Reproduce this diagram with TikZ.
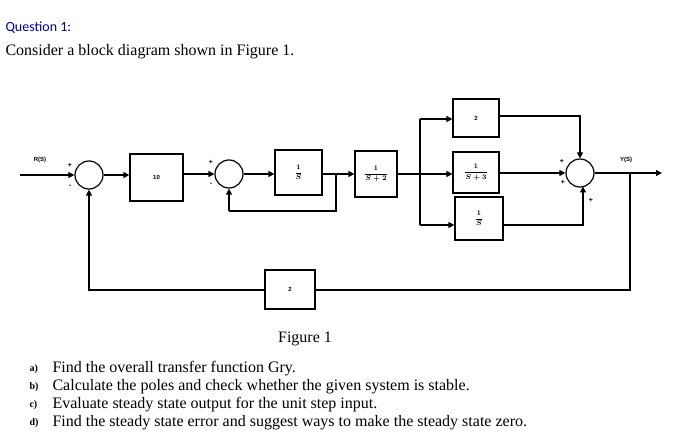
\documentclass[tikz,border=0pt]{standalone}
\usepackage{fontspec}
\setmainfont{Liberation Serif}
\newfontfamily\carl{Carlito}
\newfontfamily\lsans{Liberation Sans}
\usetikzlibrary{arrows.meta}
\begin{document}
\begin{tikzpicture}[x=1pt,y=-1pt,
  blk/.style={draw,line width=1.2pt,minimum width=#1,inner sep=0pt},
  sm/.style={draw,circle,line width=1.2pt,minimum size=28pt,inner sep=0pt},
  w/.style={line width=1.2pt},
  a/.style={line width=1.2pt,-{Triangle[length=6pt,width=6pt]}},
  lb/.style={font=\lsans\fontsize{6}{7}\selectfont\bfseries},
  sg/.style={font=\lsans\fontsize{7}{8}\selectfont\bfseries},
  fr/.style={font=\fontsize{7}{8}\selectfont\boldmath},
  tx/.style={font=\fontsize{16}{18}\selectfont}]
\useasboundingbox (0,0) rectangle (689,441);
\node[anchor=west,text=blue!60!black,font=\carl\fontsize{14}{16}\selectfont] (q) at (2,28) {Question 1:};
\node[anchor=west,tx] (c) at (2,52) {Consider a block diagram shown in Figure 1.};
% blocks
\node[sm] (s1) at (89,175) {};
\node[blk=53pt,minimum height=47pt,lb] (b10) at (156.5,177.5) {10};
\node[sm] (s2) at (229,174) {};
\node[blk=47pt,minimum height=45pt,fr] (bs) at (298.5,172.5) {$\displaystyle\frac{1}{S}$};
\node[blk=42pt,minimum height=46pt,fr] (bs2) at (376,174) {$\displaystyle\frac{1}{S+2}$};
\node[blk=46pt,minimum height=38pt,lb] (b2t) at (476,118) {2};
\node[blk=46pt,minimum height=41pt,fr] (bs3) at (476,172.5) {$\displaystyle\frac{1}{S+3}$};
\node[blk=48pt,minimum height=43pt,fr] (bsb) at (479,218.5) {$\displaystyle\frac{1}{S}$};
\node[sm] (s3) at (580,173) {};
\node[blk=50pt,minimum height=39pt,lb] (b2f) at (290,289.5) {2};
\coordinate (in) at (20,175);
\coordinate (out) at (662,173);
\coordinate (tap) at (630,173);
\coordinate (br) at (420,174);
\coordinate (fb) at (336,174);
% connections
\draw[a] (in) -- (s1.west);
\draw[a] (s1.east) -- (b10.west|-s1);
\draw[a] (b10.east|-s2) -- (s2.west);
\draw[a] (s2.east) -- (bs.west|-s2);
\draw[a] (bs.east|-fb) -- (bs2.west|-fb);
\draw[w] (fb) |- (229,211) coordinate (ib);
\draw[a] (ib) -- (s2.south);
\draw[w] (bs2.east|-br) -- (br);
\draw[w] (420,119) -- (420,225);
\draw[a] (420,119) -- (b2t.west|-0,119);
\draw[a] (br) -- (bs3.west|-br);
\draw[a] (420,225) -- (bsb.west|-0,225);
\draw[a] (b2t.east|-0,116) -| (s3.north);
\draw[a] (bs3.east|-s3) -- (s3.west);
\draw[a] (bsb.east|-0,225) -| (583,186.5);
\draw[a] (s3.east) -- (out);
\draw[w] (tap) |- (b2f.east|-0,290);
\draw[w] (b2f.west|-0,290) -| (89,200);
\draw[a] (89,200) -- (s1.south);
% labels
\node[lb] (r) at (40,160) {R(S)};
\node[lb] (y) at (626,160) {Y(S)};
\node[sg] at (70,165) {+};
\node[sg] at (70,186) {-};
\node[sg] at (211,162) {+};
\node[sg] at (211,184) {-};
\node[sg] at (562,161) {+};
\node[sg] at (563,182) {+};
\node[sg] at (591,200) {+};
\node[tx] (f) at (305,339) {Figure 1};
\foreach \l/\t/\yy in {a/{Find the overall transfer function Gry.}/369,b/{Calculate the poles and check whether the given system is stable.}/387,c/{Evaluate steady state output for the unit step input.}/405,d/{Find the steady state error and suggest ways to make the steady state zero.}/423}{
  \node[anchor=west,tx,font=\bfseries] at (26,\yy) {\l)};
  \node[anchor=west,tx] at (49,\yy) {\t};
}
\end{tikzpicture}
\end{document}
